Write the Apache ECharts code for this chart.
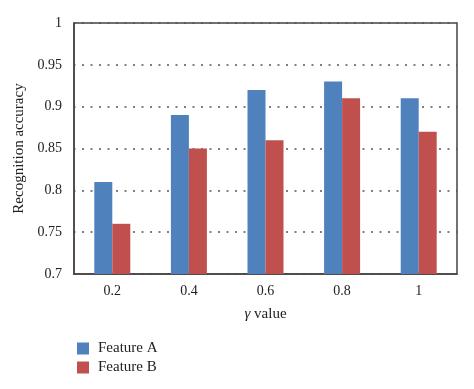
<!DOCTYPE html>
<html><head><meta charset="utf-8">
<script src="https://cdn.jsdelivr.net/npm/echarts@6/dist/echarts.min.js"></script>
<style>html,body{margin:0;padding:0;background:#fff}#c{width:474px;height:389px}</style>
</head><body><div id="c"></div>
<script>
const categories = ['0.2', '0.4', '0.6', '0.8', '1'];
const featureA = [0.81, 0.89, 0.92, 0.93, 0.91];
const featureB = [0.76, 0.85, 0.86, 0.91, 0.87];
const seriesNames = ['Feature A', 'Feature B'];
const FONT = 'Liberation Serif';
const chart = echarts.init(document.getElementById('c'));
chart.setOption({
  animation: false,
  backgroundColor: '#fff',
  textStyle: { fontFamily: FONT },
  grid: { left: 74, right: 17, top: 23, bottom: 115, show: true, borderColor: '#444', borderWidth: 1.5, backgroundColor: 'transparent' },
  legend: {
    orient: 'vertical', left: 72, top: 336, itemWidth: 12, itemHeight: 12, itemGap: 4,
    icon: 'rect',
    textStyle: { fontFamily: FONT, fontSize: 15, color: '#222', padding: [0, 0, 0, 4] },
    data: seriesNames
  },
  xAxis: {
    type: 'category', data: categories,
    axisLine: { show: true, lineStyle: { color: '#444', width: 1.5 } },
    axisTick: { show: false },
    axisLabel: { fontFamily: FONT, fontSize: 14, color: '#222', margin: 10 },
    name: '{i|γ} value', nameLocation: 'middle', nameGap: 33,
    nameTextStyle: { fontFamily: FONT, fontSize: 15, color: '#222',
      rich: { i: { fontFamily: FONT, fontStyle: 'italic', fontSize: 15, color: '#222' } } }
  },
  yAxis: {
    type: 'value', min: 0.7, max: 1, interval: 0.05,
    axisLine: { show: true, lineStyle: { color: '#444', width: 1.5 } },
    axisTick: { show: false },
    axisLabel: { fontFamily: FONT, fontSize: 14, color: '#222', margin: 12,
      formatter: v => String(Math.round(v * 100) / 100) },
    splitLine: { show: true, lineStyle: { color: '#555', type: [2, 6.5], dashOffset: -8, width: 1.5 } },
    name: 'Recognition accuracy', nameLocation: 'middle', nameGap: 42, nameRotate: 90,
    nameTextStyle: { fontFamily: FONT, fontSize: 15, color: '#222' }
  },
  series: [
    { name: seriesNames[0], type: 'bar', data: featureA, barWidth: 18, barGap: '0%', itemStyle: { color: '#4f81bd' } },
    { name: seriesNames[1], type: 'bar', data: featureB, barWidth: 18, barGap: '0%', itemStyle: { color: '#c0504d' } }
  ]
});
</script></body></html>
